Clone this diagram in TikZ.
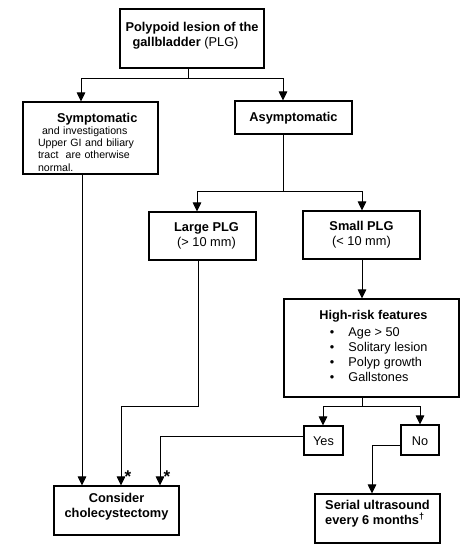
\documentclass[tikz,border=0pt]{standalone}
\usepackage{fontspec}
\setmainfont{Liberation Sans}
\usetikzlibrary{arrows.meta}
\begin{document}
\begin{tikzpicture}[x=1pt,y=-1pt,
  box/.style={draw, line width=1.1pt, inner sep=0pt, anchor=center},
  big/.style={font=\fontsize{12.8}{15}\selectfont\bfseries},
  reg/.style={font=\fontsize{12.7}{15}\selectfont},
  ln/.style={line width=1pt},
  arr/.style={ln, -{Triangle[width=8.5pt,length=9pt]}},
  ast/.style={anchor=base, inner sep=0pt, font=\fontsize{17}{17}\selectfont\bfseries},
]
\useasboundingbox (0,0) rectangle (474,551);
\fill[white] (0,0) rectangle (474,551);

% boxes
\node[box, big, align=left, minimum width=144pt, minimum height=59pt,
      text height=20pt, text depth=3pt] (plg) at (192,38.5)
  {Polypoid lesion of the\\\hspace*{7pt}gallbladder \textmd{(PLG)}};

\node[box, font=\fontsize{10.6}{12.3}\selectfont, align=left, text width=105pt,
      inner xsep=15pt, minimum height=72pt, text height=10pt, text depth=42pt] (symp) at (90.5,138)
  {\noindent\hspace*{19pt}{\fontsize{12.8}{12.3}\selectfont\bfseries Symptomatic}\\
   \hspace*{4pt}and investigations\\
   Upper GI and biliary\\
   tract\ \ are otherwise\\
   normal.};

\node[box, big, minimum width=117pt, minimum height=33pt,
      text height=10pt, text depth=3pt] (asym) at (293.5,117.5) {Asymptomatic};

\node[box, big, align=center, minimum width=107pt, minimum height=48pt,
      text height=22pt, text depth=2pt] (large) at (202.5,236)
  {\hspace*{8pt}Large PLG\\\hspace*{8pt}\textmd{(> 10 mm)}};

\node[box, big, align=center, minimum width=117pt, minimum height=48pt,
      text height=22pt, text depth=2pt] (small) at (361.5,235)
  {Small PLG\\\textmd{(< 10 mm)}};

\node[box, reg, align=left, minimum width=175pt, minimum height=98pt,
      text height=68pt, text depth=2pt] (high) at (371.5,348)
  {\hspace*{4pt}\textbf{High-risk features}\\[1.7pt]
   \makebox[33pt]{•}Age > 50\\
   \makebox[33pt]{•}Solitary lesion\\
   \makebox[33pt]{•}Polyp growth\\
   \makebox[33pt]{•}Gallstones};

\node[box, reg, minimum width=39pt, minimum height=29pt,
      text height=10pt, text depth=1pt] (yes) at (323.5,440.5) {Yes};
\node[box, reg, minimum width=38pt, minimum height=30pt,
      text height=10pt, text depth=0pt] (no) at (420,440) {No};

\node[box, big, align=center, minimum width=125pt, minimum height=49pt,
      text height=15pt, text depth=2pt] (consider) at (116.5,510.5)
  {Consider\\cholecystectomy};

\node[box, big, align=left, minimum width=125pt, minimum height=49pt,
      text height=13pt, text depth=2pt] (serial) at (377.5,518.5)
  {Serial ultrasound\\every 6 months\textsuperscript{†}};

% junction coordinates
\coordinate (j1) at (188,78);
\coordinate (sx) at (81,78);
\coordinate (ax) at (283,78);
\coordinate (cx1) at (82,174);
\coordinate (j2) at (283,191);
\coordinate (lx) at (197,191);
\coordinate (rx) at (362,191);
\coordinate (k1) at (198,406);
\coordinate (k2) at (121,406);
\coordinate (j3) at (362,406);
\coordinate (yx) at (323,406);
\coordinate (nx) at (420,406);
\coordinate (y1) at (160,436);
\coordinate (n1) at (372,445);

% connectors
\draw[ln] (plg.south -| j1) -- (j1);
\draw[arr] (j1) -- (sx) -- (sx |- symp.north);
\draw[arr] (j1) -- (ax) -- (ax |- asym.north);

\draw[arr] (symp.south -| cx1) -- (consider.north -| cx1);

\draw[ln] (asym.south -| j2) -- (j2);
\draw[arr] (j2) -- (lx) -- (lx |- large.north);
\draw[arr] (j2) -- (rx) -- (rx |- small.north);

\draw[arr] (large.south -| k1) -- (k1) -- (k2) -- (k2 |- consider.north);

\draw[arr] (small.south -| rx) -- (high.north -| rx);

\draw[ln] (high.south -| j3) -- (j3);
\draw[arr] (j3) -- (yx) -- (yx |- yes.north);
\draw[arr] (j3) -- (nx) -- (nx |- no.north);

\draw[arr] (y1 -| yes.west) -- (y1) -- (y1 |- consider.north);
\draw[arr] (n1 -| no.west) -- (n1) -- (n1 |- serial.north);

% asterisks
\node[ast] (ast1) at (128,482) {*};
\node[ast] (ast2) at (167,482) {*};
\end{tikzpicture}
\end{document}
